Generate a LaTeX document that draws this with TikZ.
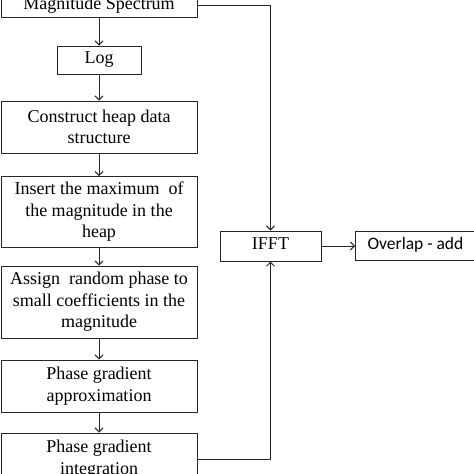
\documentclass[tikz,border=0pt]{standalone}
\usepackage{fontspec}
\setmainfont{Liberation Serif}
\newfontfamily\calib{Carlito}
\usetikzlibrary{arrows.meta}
\begin{document}
\begin{tikzpicture}[x=1pt,y=-1pt,
  box/.style={draw=black!85, line width=1pt, rectangle, inner sep=0pt,
    minimum width=196pt, align=center,
    font=\fontsize{18}{21.5}\selectfont},
  onel/.style={text height=12pt, text depth=4.5pt},
  conn/.style={draw=black!85, line width=1pt, -{Straight Barb[length=4pt,width=8pt]}},
  wire/.style={draw=black!85, line width=1pt}]
\useasboundingbox (0,0) rectangle (474,474);
\clip (0,0) rectangle (474,474);
\fill[white] (0,0) rectangle (474,474);
\node[box, onel, minimum height=23.5pt] (mag) at (99,5.25) {Magnitude Spectrum};
\node[box, onel, minimum width=84pt, minimum height=28pt] (log) at (99,60) {Log};
\node[box, minimum height=52pt] (con) at (99,127) {Construct heap data\\structure};
\node[box, minimum height=71pt] (ins) at (99,212) {Insert the maximum\ \ of\\the magnitude\ in the\\heap};
\node[box, minimum height=72pt] (asg) at (99,302) {Assign\ \ random phase to\\small coefficients in the\\magnitude};
\node[box, minimum height=52pt] (pga) at (99,386) {Phase gradient\\approximation};
\node[box, minimum height=52pt] (pgi) at (99,459) {Phase gradient\\integration};
\node[box, onel, minimum width=101pt, minimum height=30pt] (ifft) at (270.5,246) {IFFT};
\node[box, onel, minimum width=120pt, minimum height=29pt, font=\calib\fontsize{17.5}{20}\selectfont] (ola) at (415.5,246) {Overlap - add};
\draw[conn] (mag) -- (log);
\draw[conn] (log) -- (con);
\draw[conn] (con) -- (ins);
\draw[conn] (ins) -- (asg);
\draw[conn] (asg) -- (pga);
\draw[conn] (pga) -- (pgi);
\draw[conn] (mag.east) -| (ifft.north);
\draw[conn] (pgi.east) -| (ifft.south);
\draw[conn] (ifft) -- (ola);
\end{tikzpicture}
\end{document}
